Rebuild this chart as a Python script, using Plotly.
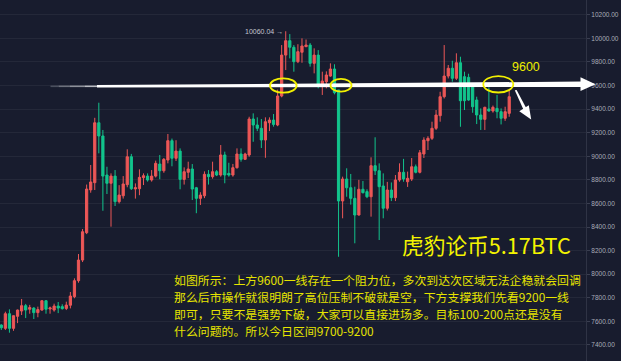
import plotly.graph_objects as go

# ---------------- data ----------------
idx = list(range(126))
opens = [7569, 7541, 7665, 7541, 7643, 7688, 7733, 7703, 7713, 7674,
         7696, 7775, 7705, 7696, 7730, 7725, 7710, 7737, 7809, 7945,
         8120, 8352, 8715, 8776, 9284, 9172, 8841, 8771, 8832, 8615,
         8665, 8759, 8996, 8723, 8725, 8818, 8832, 8799, 8832, 8934,
         8877, 8968, 9132, 8983, 9044, 8804, 8864, 8892, 8733, 8643,
         8665, 8847, 8827, 8869, 8841, 9011, 8855, 8841, 8903, 9019,
         8974, 9011, 9316, 9265, 9237, 9138, 9284, 9307, 9265, 9511,
         9858, 9980, 9924, 9802, 9882, 9929, 9943, 9788, 9858, 9604,
         9632, 9680, 9740, 9562, 8621, 8807, 8733, 8643, 8502, 8720,
         8700, 8657, 8920, 8877, 8748, 8559, 8714, 8649, 8799, 8864,
         8784, 8807, 8911, 8864, 9019, 9132, 9152, 9237, 9344, 9505,
         9680, 9746, 9661, 9793, 9675, 9669, 9604, 9477, 9350, 9313,
         9401, 9384, 9406, 9378, 9322, 9364]
highs = [7575, 7682, 7702, 7650, 7700, 7790, 7748, 7740, 7720, 7725,
         7781, 7781, 7725, 7750, 7764, 7745, 7767, 7849, 7965, 8171,
         8383, 8760, 8926, 9326, 9454, 9223, 8911, 8855, 8883, 8755,
         8832, 9059, 9020, 8770, 8889, 8855, 8855, 8883, 8963, 9011,
         8985, 9189, 9150, 9136, 9067, 8906, 8954, 8934, 8740, 8695,
         8872, 8883, 8954, 8883, 9095, 9039, 8945, 8935, 9067, 9067,
         9030, 9335, 9364, 9330, 9316, 9330, 9330, 9358, 9565, 9943,
         10060.04, 10036, 9943, 9950, 10000, 9990, 9960, 9915, 9900, 9717,
         9720, 9788, 9780, 9562, 8827, 8898, 8850, 8742, 8800, 8790,
         8720, 8991, 9161, 8940, 8855, 8783, 8778, 8841, 8940, 8978,
         8870, 8985, 8930, 9053, 9161, 9170, 9293, 9392, 9547, 9943,
         9774, 9810, 9873, 9844, 9717, 9700, 9618, 9505, 9406, 9420,
         9585, 9430, 9520, 9406, 9420, 9562]
lows = [7527, 7527, 7504, 7520, 7585, 7654, 7628, 7665, 7620, 7635,
        7690, 7665, 7665, 7682, 7670, 7700, 7696, 7710, 7796, 7928,
        8103, 8340, 8691, 8714, 9025, 8538, 8680, 8403, 8578, 8600,
        8641, 8737, 8714, 8641, 8670, 8756, 8785, 8785, 8820, 8805,
        8860, 8940, 8915, 8960, 8720, 8760, 8815, 8629, 8517, 8587,
        8645, 8760, 8810, 8832, 8827, 8771, 8827, 8827, 8895, 8954,
        8970, 8996, 9123, 9213, 9070, 8987, 9213, 9251, 9255, 9500,
        9731, 9830, 9717, 9790, 9793, 9929, 9760, 9703, 9576, 9520,
        9576, 9674, 9525, 8148, 8474, 8657, 8590, 8262, 8497, 8685,
        8645, 8488, 8841, 8290, 8474, 8540, 8620, 8620, 8784, 8784,
        8740, 8790, 8855, 8855, 8985, 9053, 9138, 9223, 9293, 9490,
        9660, 9632, 9647, 9250, 9392, 9471, 9369, 9273, 9223, 9223,
        9378, 9370, 9322, 9270, 9300, 9335]
closes = [7546, 7665, 7541, 7648, 7696, 7733, 7696, 7717, 7674, 7700,
          7775, 7703, 7714, 7730, 7713, 7708, 7738, 7815, 7945, 8120,
          8360, 8722, 8782, 9284, 9172, 8832, 8771, 8832, 8615, 8671,
          8765, 8996, 8725, 8733, 8821, 8835, 8799, 8832, 8940, 8877,
          8974, 9132, 8983, 9044, 8804, 8869, 8892, 8722, 8643, 8671,
          8847, 8827, 8869, 8841, 9011, 8841, 8841, 8903, 9019, 8974,
          9019, 9316, 9265, 9237, 9138, 9293, 9307, 9270, 9511, 9858,
          9980, 9924, 9802, 9887, 9935, 9943, 9788, 9858, 9612, 9638,
          9689, 9740, 9539, 8621, 8807, 8733, 8643, 8502, 8720, 8691,
          8657, 8920, 8877, 8742, 8559, 8714, 8649, 8799, 8864, 8807,
          8813, 8911, 8864, 9030, 9138, 9152, 9237, 9350, 9505, 9680,
          9746, 9661, 9793, 9471, 9471, 9477, 9420, 9350, 9313, 9415,
          9384, 9415, 9378, 9322, 9378, 9505]

tick_vals = [7400, 7600, 7800, 8000, 8200, 8400, 8600, 8800, 9000, 9200,
             9400, 9600, 9800, 10000, 10200]
tick_text = ["%.2f" % v for v in tick_vals]

high_label = "10060.04 →"
level_label = "9600"
title_text = "虎豹论币5.17BTC"
para_lines = [
    "如图所示：上方9600一线存在一个阻力位，多次到达次区域无法企稳就会回调",
    "那么后市操作就很明朗了高位压制不破就是空，下方支撑我们先看9200一线",
    "即可，只要不是强势下破，大家可以直接进场多。目标100-200点还是没有",
    "什么问题的。所以今日区间9700-9200",
]

# ---------------- styling / layout ----------------
W, H = 621, 361
PLOT_W = 586
BG = "#181c2e"
RED = "#ec5757"
GREEN = "#12c48c"
YEL = "#eeee00"

Y_RANGE = [7264, 10325]
X_RANGE = [-0.32, 143.9]


def px(x):
    return x / PLOT_W


def py(y):
    return 1 - y / H


fig = go.Figure()
fig.add_trace(go.Candlestick(
    x=idx, open=opens, high=highs, low=lows, close=closes,
    increasing=dict(line=dict(color=RED, width=1), fillcolor=RED),
    decreasing=dict(line=dict(color=GREEN, width=1), fillcolor=GREEN),
    whiskerwidth=0, showlegend=False, hoverinfo="skip",
))

shapes = []
# faded left part of the horizontal line
for (x0, x1, c) in [(50.5, 58.5, "#4a4f5e"), (58.5, 70, "#6c707c"),
                    (70, 85, "#8d909a"), (85, 97.5, "#b9bbc2")]:
    shapes.append(dict(type="line", xref="paper", yref="paper",
                       x0=px(x0), x1=px(x1), y0=py(86.3), y1=py(86.3),
                       line=dict(color=c, width=1.6), layer="above"))
# main tapered white line
shapes.append(dict(type="path", xref="paper", yref="paper",
                   path="M %f,%f L %f,%f L %f,%f L %f,%f Z" % (
                       px(97), py(85.1), px(582), py(81.6),
                       px(582), py(86.9), px(97), py(87.4)),
                   fillcolor="white", line=dict(width=0), layer="above"))
# big arrow head
shapes.append(dict(type="path", xref="paper", yref="paper",
                   path="M %f,%f L %f,%f L %f,%f Z" % (
                       px(580.5), py(77.3), px(595.5), py(84.3),
                       px(580.5), py(91.0)),
                   fillcolor="white", line=dict(width=0), layer="above"))
# small down-right arrow
shapes.append(dict(type="path", xref="paper", yref="paper",
                   path="M %f,%f L %f,%f L %f,%f L %f,%f Z" % (
                       px(514.8), py(90.2), px(516.6), py(90.0),
                       px(526.2), py(108.0), px(523.4), py(109.6)),
                   fillcolor="white", line=dict(width=0), layer="above"))
shapes.append(dict(type="path", xref="paper", yref="paper",
                   path="M %f,%f L %f,%f L %f,%f Z" % (
                       px(519.3), py(111.2), px(528.8), py(105.2),
                       px(531.2), py(119.5)),
                   fillcolor="white", line=dict(width=0), layer="above"))
# yellow ellipses
for (cx, cy, rx, ry) in [(283.3, 85.5, 13.3, 7.2), (341.0, 85.3, 10.5, 6.4),
                         (498.3, 84.3, 15.0, 8.2)]:
    shapes.append(dict(type="circle", xref="paper", yref="paper",
                       x0=px(cx - rx), x1=px(cx + rx),
                       y0=py(cy + ry), y1=py(cy - ry),
                       line=dict(color="#f2f000", width=1.8), layer="above"))

annotations = []
annotations.append(dict(x=70, y=10060.04, xref="x", yref="y", text=high_label,
                        showarrow=False, xanchor="right", yanchor="middle",
                        xshift=-1,
                        font=dict(family="Liberation Sans, Arial", size=7,
                                  color="#c3c6cf")))
annotations.append(dict(x=px(525.5), y=py(66.7), xref="paper", yref="paper",
                        text=level_label, showarrow=False, xanchor="center",
                        yanchor="middle",
                        font=dict(family="Liberation Sans, Arial", size=12.5,
                                  color=YEL)))
annotations.append(dict(x=px(399.5), y=py(244.5), xref="paper", yref="paper",
                        text=title_text, showarrow=False, xanchor="left",
                        yanchor="middle",
                        font=dict(family="Noto Sans CJK SC", size=21.7,
                                  color="#f4f400")))
for k, line in enumerate(para_lines):
    annotations.append(dict(x=px(172), y=py(279.3 + 17 * k), xref="paper",
                            yref="paper", text=line, showarrow=False,
                            xanchor="left", yanchor="middle",
                            font=dict(family="Noto Sans CJK SC", size=11.9,
                                      color="#e6e400")))

fig.update_layout(
    width=W, height=H,
    margin=dict(l=0, r=W - PLOT_W, t=0, b=0),
    paper_bgcolor=BG, plot_bgcolor=BG,
    boxgap=0.22,
    showlegend=False,
    xaxis=dict(range=X_RANGE, visible=False, rangeslider=dict(visible=False),
               showgrid=False, zeroline=False),
    yaxis=dict(range=Y_RANGE, side="right", tickvals=tick_vals,
               ticktext=tick_text, showgrid=True, gridcolor="#242839",
               gridwidth=1, zeroline=False, showline=True,
               linecolor="#2f3345", linewidth=1, ticks="outside",
               ticklen=3, tickcolor="#3a3e50",
               tickfont=dict(family="Liberation Sans, Arial", size=6.5,
                             color="#a9acb8")),
    shapes=shapes,
    annotations=annotations,
)

fig.write_html("out.html")
